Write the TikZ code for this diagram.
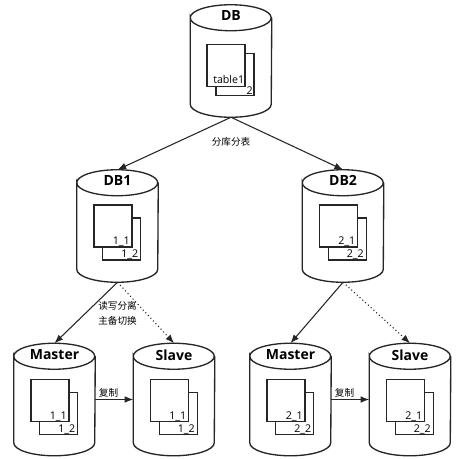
\documentclass[tikz,border=0pt]{standalone}
\usepackage{fontspec}
\setmainfont{Open Sans}
\newfontfamily\cjk{Noto Sans CJK SC}
\usetikzlibrary{arrows.meta,calc,positioning}

\begin{document}
\begin{tikzpicture}[x=0.75pt,y=-0.75pt,>={Latex[length=6.5pt,width=5pt]}]
	\tikzstyle{dbcyl} = [rectangle, minimum width=60.75pt, minimum height=84pt, inner sep=0]
	\tikzstyle{dbline} = [draw=black!85, line width=1pt]
	\tikzstyle{dbname} = [inner sep=0, font=\fontsize{10.5}{12}\selectfont\bfseries]
	\tikzstyle{sheet} = [draw=black!85, line width=0.8pt, fill=white, minimum width=28.5pt, minimum height=31.5pt, inner sep=0]
	\tikzstyle{sheetname} = [inner sep=0, anchor=base east, font=\fontsize{8}{9}\selectfont]
	\tikzstyle{remark} = [inner sep=1pt, align=center, font=\cjk\fontsize{7.2}{11.25}\selectfont]
	\tikzstyle{feed} = [->, draw=black!85, line width=0.8pt]

	\useasboundingbox (0,0) rectangle (474,458);

	\node [dbcyl] (db) at (231,61) {};
	\node [dbcyl] (db1) at (117.5,226) {};
	\node [dbcyl, right = 108pt of db1] (db2) {};
	\node [dbcyl] (m1) at (54.5,399.5) {};
	\node [dbcyl, right = 28.5pt of m1] (s1) {};
	\node [dbcyl] (m2) at (290.5,399.5) {};
	\node [dbcyl, right = 28.5pt of m2] (s2) {};

	% cylinder outlines round each database node
	\foreach \n in {db,db1,db2,m1,s1,m2,s2}
		\draw [dbline] ($(\n.north west)+(0,13)$) arc [start angle=180, end angle=-180, x radius=30.375pt, y radius=9.75pt]
			-- ($(\n.south west)+(0,-13)$) arc [start angle=180, end angle=360, x radius=30.375pt, y radius=9.75pt]
			-- ($(\n.north east)+(0,13)$);

	\node [dbname, below = 4pt of db.north] (dbt) {DB};
	\node [dbname, below = 4pt of db1.north] (db1t) {DB1};
	\node [dbname, below = 4pt of db2.north] (db2t) {DB2};
	\node [dbname, below = 4.5pt of m1.north] (m1t) {Master};
	\node [dbname, below = 4.5pt of s1.north] (s1t) {Slave};
	\node [dbname, below = 4.5pt of m2.north] (m2t) {Master};
	\node [dbname, below = 4.5pt of s2.north] (s2t) {Slave};

	% tables: back sheet first, front sheet over it
	\node [sheet] (dbb) at ($(db)+(4,13.5)$) {};
	\node [sheet] (dbf) at ($(db)+(-5,4.5)$) {};
	\node [sheetname] (dbfl) at ($(dbf.south east)+(-1,-4)$) {table1};
	\node [sheetname] (dbbl) at ($(dbb.south east)+(-1.5,-2)$) {2};

	\node [sheet] (db1b) at ($(db1)+(4,13)$) {};
	\node [sheet] (db1f) at ($(db1)+(-4.5,0)$) {};
	\node [sheetname] (db1fl) at ($(db1f.south east)+(-2.5,-3)$) {1\_1};
	\node [sheetname] (db1bl) at ($(db1b.south east)+(-2.5,-3)$) {1\_2};

	\node [sheet] (db2b) at ($(db2)+(4,13)$) {};
	\node [sheet] (db2f) at ($(db2)+(-4.5,0)$) {};
	\node [sheetname] (db2fl) at ($(db2f.south east)+(-2.5,-3)$) {2\_1};
	\node [sheetname] (db2bl) at ($(db2b.south east)+(-2.5,-3)$) {2\_2};

	\node [sheet] (m1b) at ($(m1)+(4,14)$) {};
	\node [sheet] (m1f) at ($(m1)+(-4.5,1)$) {};
	\node [sheetname] (m1fl) at ($(m1f.south east)+(-2.5,-3)$) {1\_1};
	\node [sheetname] (m1bl) at ($(m1b.south east)+(-2.5,-3)$) {1\_2};

	\node [sheet] (s1b) at ($(s1)+(4,14)$) {};
	\node [sheet] (s1f) at ($(s1)+(-4.5,1)$) {};
	\node [sheetname] (s1fl) at ($(s1f.south east)+(-2.5,-3)$) {1\_1};
	\node [sheetname] (s1bl) at ($(s1b.south east)+(-2.5,-3)$) {1\_2};

	\node [sheet] (m2b) at ($(m2)+(4,14)$) {};
	\node [sheet] (m2f) at ($(m2)+(-4.5,1)$) {};
	\node [sheetname] (m2fl) at ($(m2f.south east)+(-2.5,-3)$) {2\_1};
	\node [sheetname] (m2bl) at ($(m2b.south east)+(-2.5,-3)$) {2\_2};

	\node [sheet] (s2b) at ($(s2)+(4,14)$) {};
	\node [sheet] (s2f) at ($(s2)+(-4.5,1)$) {};
	\node [sheetname] (s2fl) at ($(s2f.south east)+(-2.5,-3)$) {2\_1};
	\node [sheetname] (s2bl) at ($(s2b.south east)+(-2.5,-3)$) {2\_2};

	% labels between the arrows
	\node [remark, below = 14pt of db.south] (split) {分库分表};
	\node [remark, below = 13pt of db1.south] (rw) {读写分离\\主备切换};

	\draw [feed] (db.south) -- (db1.north);
	\draw [feed] (db.south) -- (db2.north);
	\draw [feed] (db1.south) -- (m1.north);
	\draw [feed, dotted] (db1.south) -- (s1.north);
	\draw [feed] (db2.south) -- (m2.north);
	\draw [feed, dotted] (db2.south) -- (s2.north);
	\draw [feed] (m1) -- node [remark, above, pos=0.35] (cp1) {复制} (s1);
	\draw [feed] (m2) -- node [remark, above, pos=0.35] (cp2) {复制} (s2);

\end{tikzpicture}
\end{document}
